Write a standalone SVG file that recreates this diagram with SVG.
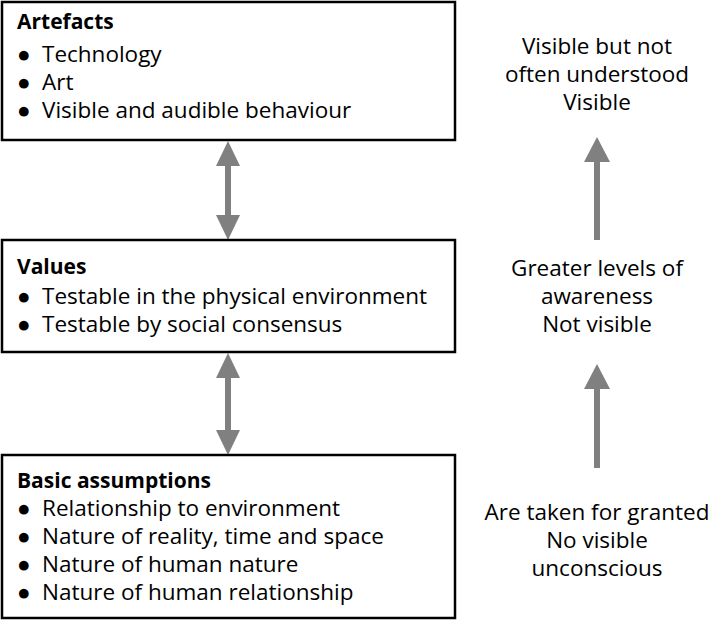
<svg xmlns="http://www.w3.org/2000/svg" width="712" height="630" viewBox="0 0 712 630">
<style>
text{font-family:"Open Sans","Liberation Sans",sans-serif;font-size:22.5px;fill:#000}
.t{font-weight:bold;font-size:21px}
.c{text-anchor:middle}
.box{fill:#fff;stroke:#000;stroke-width:2.5}
.ln{stroke:#808080;stroke-width:6;fill:none}
.hd{fill:#808080}
</style>
<rect width="712" height="630" fill="#fff"/>
<g id="connectors">
<line class="ln" x1="228" y1="160" x2="228" y2="222"/>
<polygon class="hd" points="228,141 216,166 240,166"/>
<polygon class="hd" points="228,240 216,215 240,215"/>
<line class="ln" x1="228" y1="372" x2="228" y2="436"/>
<polygon class="hd" points="228,353 216,378 240,378"/>
<polygon class="hd" points="228,455 216,430 240,430"/>
<line class="ln" x1="597" y1="158" x2="597" y2="240"/>
<polygon class="hd" points="597,137 584,162 610,162"/>
<line class="ln" x1="597" y1="385" x2="597" y2="468"/>
<polygon class="hd" points="597,364 584,389 610,389"/>
</g>
<g id="artefacts">
<rect class="box" x="2" y="2" width="453" height="138"/>
<text class="t" x="17" y="29">Artefacts</text>
<text x="17" y="62">●<tspan x="42">Technology</tspan></text>
<text x="17" y="90">●<tspan x="42">Art</tspan></text>
<text x="17" y="118">●<tspan x="42">Visible and audible behaviour</tspan></text>
</g>
<g id="values">
<rect class="box" x="2" y="240" width="453" height="112"/>
<text class="t" x="17" y="274">Values</text>
<text x="17" y="304">●<tspan x="42">Testable in the physical environment</tspan></text>
<text x="17" y="332">●<tspan x="42">Testable by social consensus</tspan></text>
</g>
<g id="assumptions">
<rect class="box" x="2" y="455" width="453" height="163"/>
<text class="t" x="17" y="488">Basic assumptions</text>
<text x="17" y="516">●<tspan x="42">Relationship to environment</tspan></text>
<text x="17" y="544">●<tspan x="42">Nature of reality, time and space</tspan></text>
<text x="17" y="572">●<tspan x="42">Nature of human nature</tspan></text>
<text x="17" y="600">●<tspan x="42">Nature of human relationship</tspan></text>
</g>
<g id="labels">
<text class="c" x="597" y="54">Visible but not</text>
<text class="c" x="597" y="82">often understood</text>
<text class="c" x="597" y="110">Visible</text>
<text class="c" x="597" y="276">Greater levels of</text>
<text class="c" x="597" y="304">awareness</text>
<text class="c" x="597" y="332">Not visible</text>
<text class="c" x="597" y="520">Are taken for granted</text>
<text class="c" x="597" y="548">No visible</text>
<text class="c" x="597" y="576">unconscious</text>
</g>
</svg>
